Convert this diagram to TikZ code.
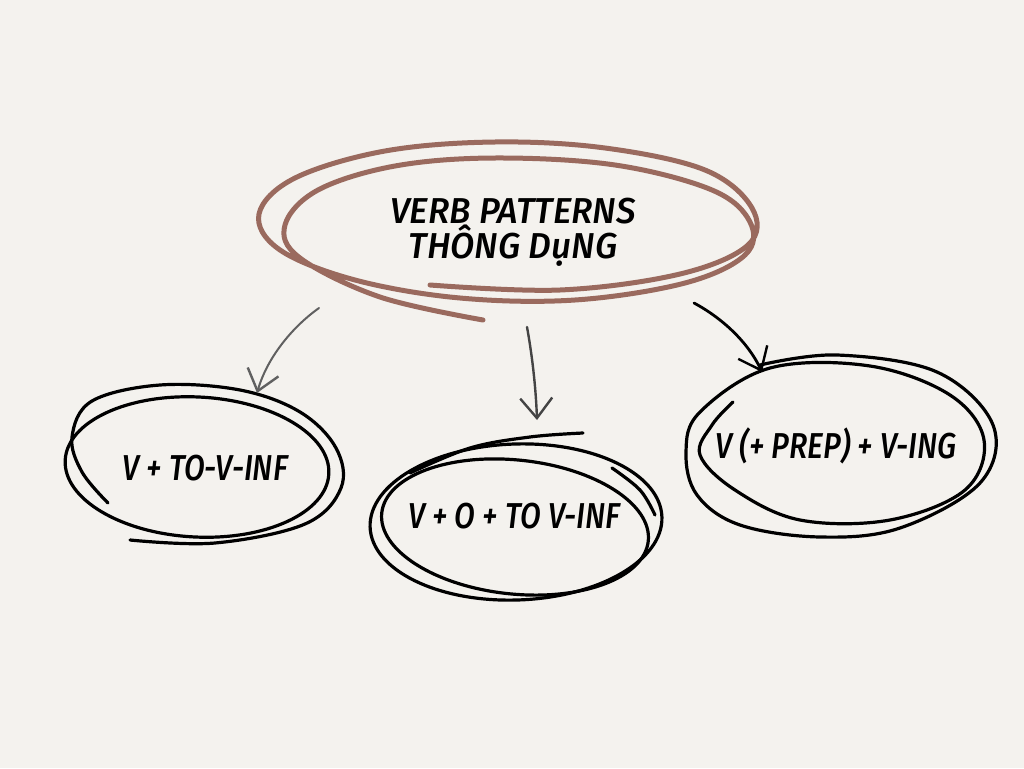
\documentclass[tikz,border=0pt]{standalone}
\usepackage{fontspec}
\setmainfont{Fira Sans}[UprightFont=* Medium, ItalicFont=* Medium Italic]
\usetikzlibrary{arrows.meta}
\definecolor{bg}{HTML}{F4F2EE}
\definecolor{brownink}{HTML}{9A6A5E}
\definecolor{grayink}{HTML}{444444}
\newcommand{\hscale}[2]{\scalebox{#1}[1]{#2}}
\tikzset{
  lbl/.style={font=\fontsize{36}{35}\selectfont\itshape, text=black, inner sep=0pt, align=center},
  brownloop/.style={draw=brownink, line width=5pt, line cap=round, line join=round},
  inkloop/.style={draw=black, line width=3.2pt, line cap=round, line join=round},
  conn/.style={draw=grayink, line width=2.4pt, line cap=round,
    -{Straight Barb[length=20pt,width=32pt,line width=2.4pt]}},
}
\begin{document}
\begin{tikzpicture}[x=1pt,y=-1pt]
\fill[bg] (0,0) rectangle (1024,768);
\useasboundingbox (0,0) rectangle (1024,768);

% --- title ---
\node[lbl] (title) at (513,232) {\hscale{0.98}{VERB PATTERNS}\\\hscale{0.98}{THÔNG DụNG}};
\draw[brownloop] plot[smooth, tension=0.6] coordinates {
 (430,285) (560,290) (680,274) (748,245) (752,208) (705,170) (605,148) (495,142)
 (385,151) (295,178) (259,214) (280,250) (355,280) (460,298) (575,300) (685,283)
 (745,255) (750,222) (712,190) (615,165) (495,158) (395,166) (318,190) (285,225)
 (300,258) (380,297) (483,320)};

% --- children ---
\node[lbl] (a) at (205,468) {\hscale{0.84}{V + TO-V-INF}};
\node[lbl] (b) at (514,516) {\hscale{0.84}{V + O + TO V-INF}};
\node[lbl] (c) at (836,446) {\hscale{0.84}{V (+ PREP) + V-ING}};

% left loops
\draw[inkloop] plot[smooth, tension=0.6] coordinates {
 (108,503) (82,472) (72,437) (92,401) (160,385) (240,390) (300,412) (336,448)
 (341,488) (305,524) (215,543) (130,540)};
\draw[inkloop, rotate around={-3:(197,467)}] (197,467) ellipse (132pt and 70pt);

% middle loops
\draw[inkloop] plot[smooth, tension=0.6] coordinates {
 (410,473) (470,448) (530,437) (583,433)};
\draw[inkloop, rotate around={2:(516,522)}] (516,522) ellipse (146pt and 78pt);
\draw[inkloop, rotate around={-6:(515,527)}] (515,527) ellipse (134pt and 67pt);
\draw[inkloop] plot[smooth, tension=0.6] coordinates {
 (612,468) (640,490) (655,515)};

% right loops
\draw[inkloop] plot[smooth, tension=0.6] coordinates {
 (760,365) (837,355) (937,372) (993,425) (980,483) (900,528) (820,537) (740,525)
 (697,495) (686,452) (700,412) (770,368) (870,366) (950,395) (984,440)
 (965,490) (890,520) (800,520) (735,490) (700,455) (712,425) (733,402)};

% --- connectors ---
\coordinate (ta) at (319,308);
\coordinate (ah) at (257,393);
\coordinate (tb) at (527,327);
\coordinate (bh) at (537,420);
\coordinate (tc) at (694,303);
\coordinate (ch) at (762,372);
\draw[conn, draw=grayink!85, line width=2pt] (ta) .. controls (295,325) and (268,355) .. (ah);
\draw[conn] (tb) .. controls (533,360) and (536,392) .. (bh);
\draw[conn, draw=black, line width=2.8pt] (tc) .. controls (722,318) and (748,342) .. (ch);
\end{tikzpicture}
\end{document}
